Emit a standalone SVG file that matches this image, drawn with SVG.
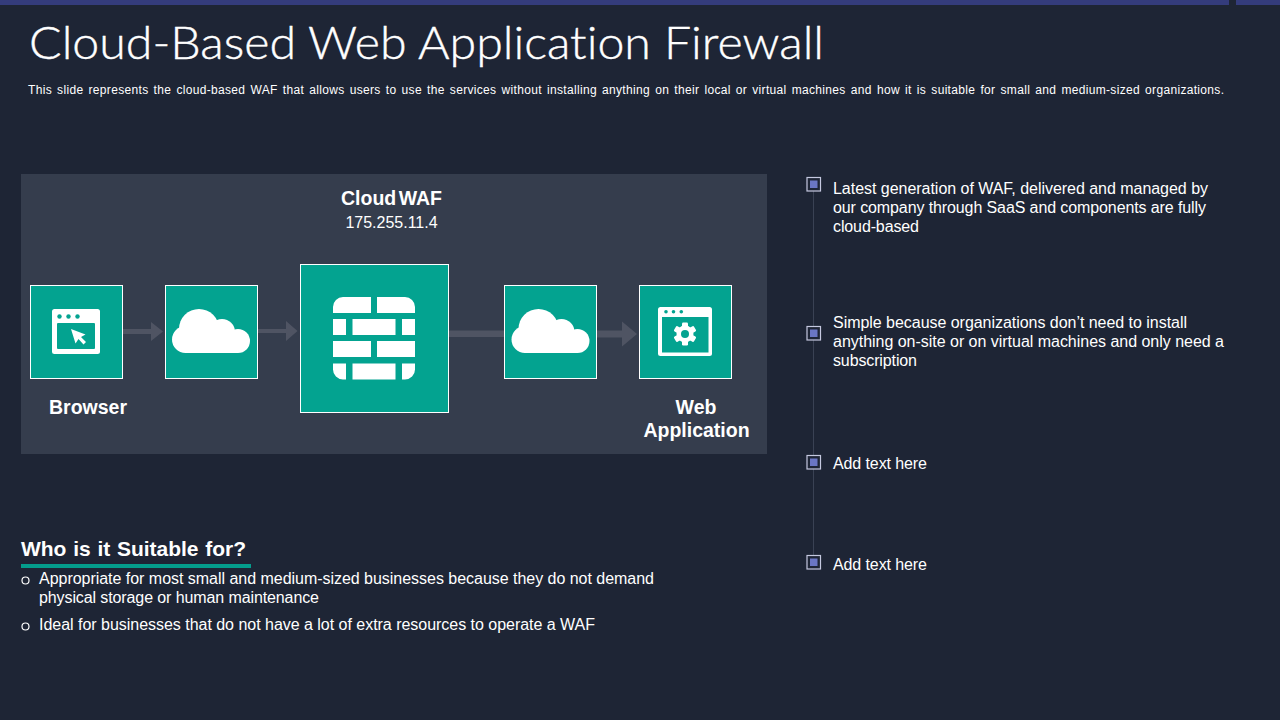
<svg xmlns="http://www.w3.org/2000/svg" xmlns:xlink="http://www.w3.org/1999/xlink" width="1280" height="720" viewBox="0 0 1280 720">
<style>
text{font-family:"Liberation Sans",Arial,sans-serif;fill:#fff;font-variant-ligatures:none}
.b{font-size:16px}
.h{font-size:19.500px;font-weight:bold}
.box{fill:#03a390;stroke:#fff;stroke-width:1}
.w{fill:#fff}
.t{fill:#03a390}
.ar{fill:#4f5463}
.mk{fill:#1e2536;stroke:#c5c9e0;stroke-width:1.200}
.mi{fill:#6a76c4}
</style>
<defs>
<g id="cloud"><circle cx="199" cy="329" r="20"/><circle cx="222" cy="332" r="13"/><circle cx="238" cy="341" r="12"/><circle cx="185.500" cy="339.500" r="13.500"/><rect x="185" y="333" width="53" height="20"/></g>
</defs>
<rect width="1280" height="720" fill="#1e2535"/>
<rect x="0" y="0" width="1229" height="5" fill="#343c7c"/>
<rect x="1236" y="0" width="44" height="5" fill="#343c7c"/>
<text x="29" y="59" font-size="46" textLength="795" lengthAdjust="spacingAndGlyphs" stroke="#fff" stroke-width="0.400" style="font-family:'Lato','Liberation Sans',sans-serif;font-weight:300">Cloud-Based Web Application Firewall</text>
<text x="28" y="94" font-size="12" textLength="1196" style="word-spacing:1.500px">This slide represents the cloud-based WAF that allows users to use the services without installing anything on their local or virtual machines and how it is suitable for small and medium-sized organizations.</text>
<rect id="panel" x="21" y="174" width="746" height="280" fill="#353d4d"/>
<g id="connectors">
<path class="ar" d="M123 329h28v-7l12 9.500-12 9.500v-7h-28z"/>
<path class="ar" d="M258 329h28v-8l11.500 10-11.500 10v-8h-28z"/>
<rect class="ar" x="449" y="330.500" width="55" height="6.500"/>
<path class="ar" d="M597 330.500h25v-9l15 12.500-15 12.500v-9h-25z"/>
</g>
<g id="node-browser">
<rect class="box" x="30.500" y="285.500" width="92" height="93"/>
<rect class="w" x="52" y="309" width="48" height="45" rx="2.500"/>
<rect class="t" x="57" y="323" width="38" height="26" rx="1"/>
<circle class="t" cx="59.500" cy="316.500" r="2.200"/><circle class="t" cx="68.500" cy="316.500" r="2.200"/><circle class="t" cx="77.500" cy="316.500" r="2.200"/>
<path class="w" d="M71 329l14.500 5.500-4.500 2.500 5 5-2.500 2.500-5-5.500-3 4.500z"/>
<text x="88" y="414" class="h" text-anchor="middle">Browser</text>
</g>
<g id="node-cloud-1">
<rect class="box" x="165.500" y="285.500" width="92" height="93"/>
<use xlink:href="#cloud" href="#cloud" class="w"/>
</g>
<g id="node-waf">
<rect class="box" x="300.500" y="264.500" width="148" height="148"/>
<path class="w" d="M343 297h28v16h-38v-6a10 10 0 0 1 10-10zM377 297h28a10 10 0 0 1 10 10v6h-38z"/>
<path class="w" d="M333 319h13v16h-13zM352.500 319h43v16h-43zM402 319h13v16h-13z"/>
<path class="w" d="M333 341h38v16h-38zM377 341h38v16h-38z"/>
<path class="w" d="M333 363.500h13v16h-3a10 10 0 0 1-10-10zM352.500 363.500h43v16h-43zM402 363.500h13v6a10 10 0 0 1-10 10h-3z"/>
<text x="391.500" y="205" class="h" text-anchor="middle" style="word-spacing:-3px">Cloud WAF</text>
<text x="391.500" y="228" class="b" text-anchor="middle">175.255.11.4</text>
</g>
<g id="node-cloud-2">
<rect class="box" x="504.500" y="285.500" width="92" height="93"/>
<use xlink:href="#cloud" href="#cloud" class="w" transform="translate(339.500 0)"/>
</g>
<g id="node-webapp">
<rect class="box" x="639.500" y="285.500" width="92" height="93"/>
<rect class="w" x="658" y="307" width="54" height="49" rx="2.500"/>
<rect class="t" x="662" y="317" width="46.500" height="35.500"/>
<circle class="t" cx="666" cy="311.800" r="1.800"/><circle class="t" cx="673.500" cy="311.800" r="1.800"/><circle class="t" cx="681.300" cy="311.800" r="1.800"/>
<circle class="w" cx="685" cy="334" r="8.500"/>
<g class="w"><rect x="682" y="322.500" width="6" height="23" rx="1.200"/><rect x="682" y="322.500" width="6" height="23" rx="1.200" transform="rotate(60 685 334)"/><rect x="682" y="322.500" width="6" height="23" rx="1.200" transform="rotate(120 685 334)"/></g>
<circle class="t" cx="685" cy="334" r="4"/>
<text x="696" y="414" class="h" text-anchor="middle">Web</text>
<text x="696.500" y="437" class="h" text-anchor="middle">Application</text>
</g>
<g id="suitable">
<text x="21" y="556" font-size="21" font-weight="bold" textLength="225" style="word-spacing:1px">Who is it Suitable for?</text>
<rect x="21" y="564" width="230" height="4" fill="#049d8c"/>
<circle cx="25.500" cy="580.500" r="3.500" fill="none" stroke="#fff" stroke-width="1.200"/>
<text x="39" y="584" class="b" textLength="615">Appropriate for most small and medium-sized businesses because they do not demand</text>
<text x="39" y="603" class="b" textLength="280">physical storage or human maintenance</text>
<circle cx="25.500" cy="626.500" r="3.500" fill="none" stroke="#fff" stroke-width="1.200"/>
<text x="39" y="630" class="b" textLength="556">Ideal for businesses that do not have a lot of extra resources to operate a WAF</text>
</g>
<g id="timeline">
<line x1="813.500" y1="184" x2="813.500" y2="562" stroke="#3a4254" stroke-width="1"/>
<g id="item-1"><rect class="mk" x="807" y="177.500" width="13.500" height="13.500"/><rect class="mi" x="810" y="180.500" width="7.500" height="7.500"/>
<text x="833" y="194" class="b" textLength="375">Latest generation of WAF, delivered and managed by</text>
<text x="833" y="213" class="b" textLength="373">our company through SaaS and components are fully</text>
<text x="833" y="232" class="b" textLength="86">cloud-based</text></g>
<g id="item-2"><rect class="mk" x="807" y="326.500" width="13.500" height="13.500"/><rect class="mi" x="810" y="329.500" width="7.500" height="7.500"/>
<text x="833" y="328" class="b" textLength="354">Simple because organizations don’t need to install</text>
<text x="833" y="347" class="b" textLength="391">anything on-site or on virtual machines and only need a</text>
<text x="833" y="366" class="b" textLength="84">subscription</text></g>
<g id="item-3"><rect class="mk" x="807" y="455.500" width="13.500" height="13.500"/><rect class="mi" x="810" y="458.500" width="7.500" height="7.500"/>
<text x="833" y="469" class="b" textLength="94">Add text here</text></g>
<g id="item-4"><rect class="mk" x="807" y="555.500" width="13.500" height="13.500"/><rect class="mi" x="810" y="558.500" width="7.500" height="7.500"/>
<text x="833" y="570" class="b" textLength="94">Add text here</text></g>
</g>
</svg>
